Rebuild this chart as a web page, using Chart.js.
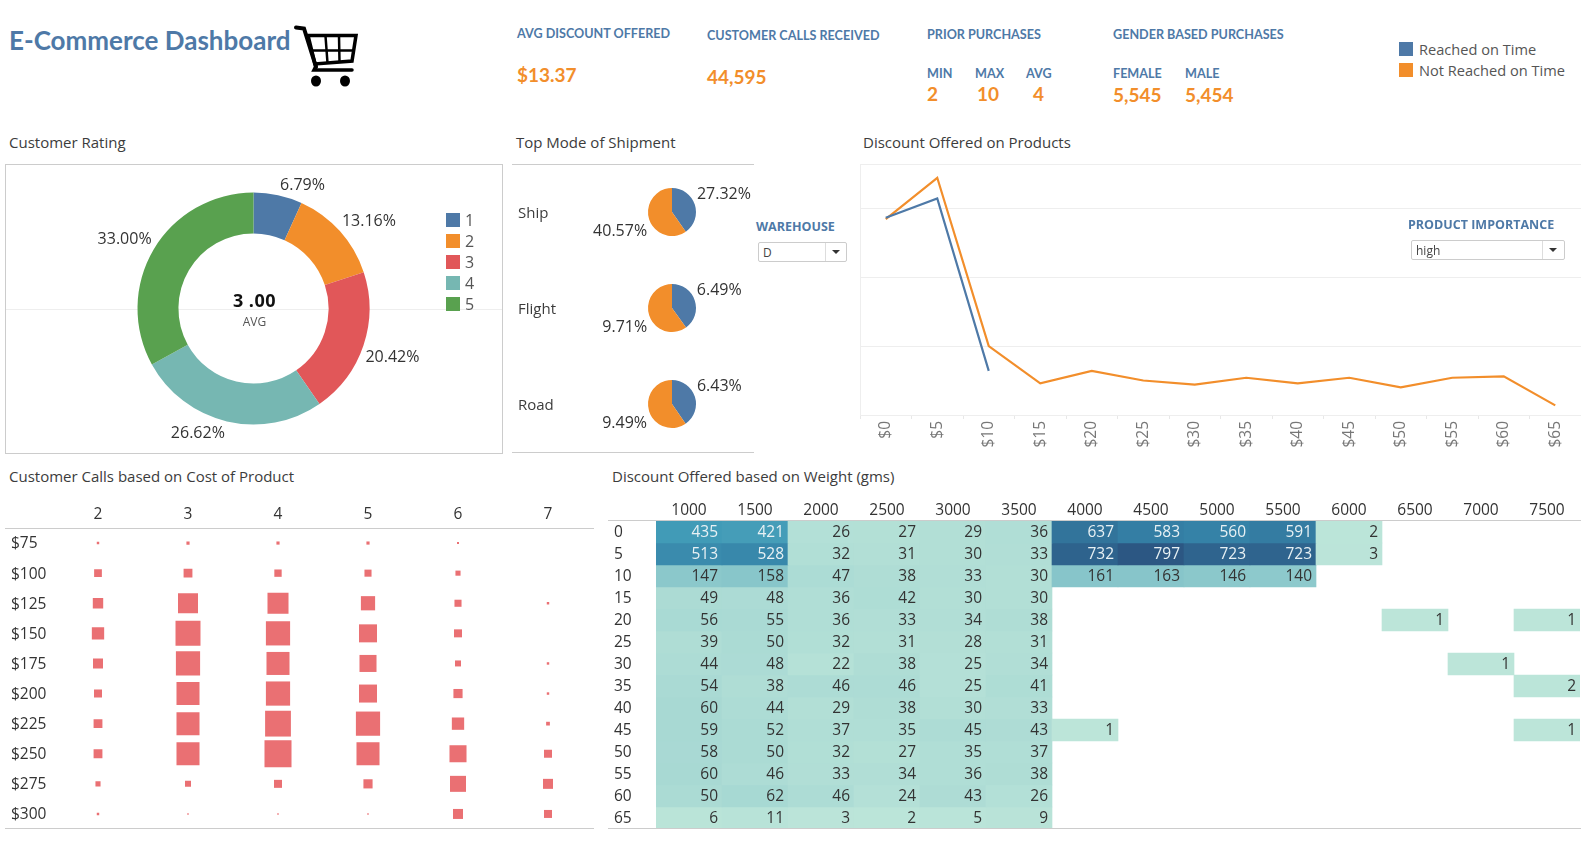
<!DOCTYPE html>
<html>
<head>
<meta charset="utf-8">
<title>E-Commerce Dashboard</title>
<script src="https://cdn.jsdelivr.net/npm/chart.js@4"></script>
<style>
html, body { margin: 0; padding: 0; background: #fff; }
body { position: relative; width: 1591px; height: 845px; overflow: hidden; font-family: "Open Sans", sans-serif; color: #333; }
canvas { position: absolute; }
.t { position: absolute; white-space: nowrap; transform: translateY(-50%); line-height: 1; }
.sec { font-size: 15px; color: #3c3c3c; }
.kh { font-family: Lato, sans-serif; font-weight: 700; font-size: 12.6px; color: #4e79a7; }
.kv { font-family: Lato, sans-serif; font-weight: 700; font-size: 19px; color: #f28e2b; }
.fl { font-weight: 700; font-size: 12.5px; color: #4e79a7; }
.line { position: absolute; height: 1px; background: #ccc; }
.sw { position: absolute; width: 14px; height: 14px; }
.dd { position: absolute; box-sizing: border-box; height: 20px; border: 1px solid #ccc; border-radius: 2px; font-size: 12px; color: #444; line-height: 20px; padding-left: 4px; }
.dd i { position: absolute; top: 0; bottom: 0; width: 1px; background: #ddd; }
.dd b { position: absolute; top: 7px; width: 0; height: 0; border-left: 4px solid transparent; border-right: 4px solid transparent; border-top: 4px solid #333; }
</style>
</head>
<body>

<div class="t" style="left:9px;top:40px;font-family:Lato,sans-serif;font-weight:700;font-size:26px;color:#4e79a7">E-Commerce Dashboard</div>
<svg style="position:absolute;left:290px;top:20px" width="72" height="72" viewBox="290 20 72 72">
  <polyline points="296,27.5 304,28.5 316,67" fill="none" stroke="#000" stroke-width="4" stroke-linecap="round"/>
  <polyline points="316,66 314,70 352,70" fill="none" stroke="#000" stroke-width="3.5" stroke-linecap="round"/>
  <polygon points="308,35.5 356,35.5 352,61 315,64" fill="none" stroke="#000" stroke-width="3.5"/>
  <path d="M325.5,36 L327.5,63 M339,36 L339.5,62 M310,50.5 L354,50.5" stroke="#000" stroke-width="2.5"/>
  <ellipse cx="316" cy="81" rx="5" ry="5.5"/>
  <ellipse cx="345" cy="81" rx="5" ry="5.5"/>
</svg>

<div class="t kh" style="left:517px;top:34px">AVG DISCOUNT OFFERED</div>
<div class="t kv" style="left:517px;top:74px">$13.37</div>
<div class="t kh" style="left:707px;top:36px">CUSTOMER CALLS RECEIVED</div>
<div class="t kv" style="left:707px;top:76px">44,595</div>
<div class="t kh" style="left:927px;top:35px">PRIOR PURCHASES</div>
<div class="t kh" style="left:927px;top:74px">MIN</div>
<div class="t kh" style="left:975px;top:74px">MAX</div>
<div class="t kh" style="left:1026px;top:74px">AVG</div>
<div class="t kv" style="left:927px;top:93px">2</div>
<div class="t kv" style="left:977px;top:93px">10</div>
<div class="t kv" style="left:1033px;top:93px">4</div>
<div class="t kh" style="left:1113px;top:35px">GENDER BASED PURCHASES</div>
<div class="t kh" style="left:1113px;top:74px">FEMALE</div>
<div class="t kh" style="left:1185px;top:74px">MALE</div>
<div class="t kv" style="left:1113px;top:94px">5,545</div>
<div class="t kv" style="left:1185px;top:94px">5,454</div>

<div class="sw" style="left:1399px;top:42px;background:#4e79a7"></div>
<div class="sw" style="left:1399px;top:63px;background:#f28e2b"></div>
<div class="t" style="left:1419px;top:49px;font-size:14.6px;color:#555">Reached on Time</div>
<div class="t" style="left:1419px;top:70px;font-size:14.6px;color:#555">Not Reached on Time</div>

<div class="t sec" style="left:9px;top:142px">Customer Rating</div>
<div class="t sec" style="left:516px;top:142px">Top Mode of Shipment</div>
<div class="t sec" style="left:863px;top:142px">Discount Offered on Products</div>
<div class="t sec" style="left:9px;top:476px">Customer Calls based on Cost of Product</div>
<div class="t sec" style="left:612px;top:476px">Discount Offered based on Weight (gms)</div>

<!-- rating panel -->
<div style="position:absolute;left:5px;top:164px;width:496px;height:288px;border:1px solid #ccc"></div>
<div class="line" style="left:6px;top:309px;width:496px;background:#eee"></div>
<canvas id="cRating" width="497" height="289" style="left:5px;top:164px"></canvas>
<div class="t" style="left:213px;width:83px;text-align:center;top:300px;font-weight:700;font-size:18px;color:#111;letter-spacing:.5px">3 .00</div>
<div class="t" style="left:213px;width:83px;text-align:center;top:322px;font-size:12px;color:#555">AVG</div>
<div id="ratingLegend"></div>

<!-- shipment panel -->
<div class="line" style="left:512px;top:164px;width:242px"></div>
<div class="line" style="left:512px;top:452px;width:242px"></div>
<canvas id="cShip0" width="164" height="96" style="left:590px;top:164px"></canvas>
<canvas id="cShip1" width="164" height="96" style="left:590px;top:260px"></canvas>
<canvas id="cShip2" width="164" height="96" style="left:590px;top:356px"></canvas>
<div id="shipNames"></div>

<div class="t fl" style="left:756px;top:227px">WAREHOUSE</div>
<div class="dd" style="left:758px;top:242px;width:89px">D<i style="left:66px"></i><b style="left:73px"></b></div>

<!-- discount line -->
<canvas id="cLine" width="722" height="286" style="left:859px;top:164px"></canvas>
<div class="t fl" style="left:1408px;top:225px">PRODUCT IMPORTANCE</div>
<div class="dd" style="left:1411px;top:240px;width:154px">high<i style="left:130px"></i><b style="left:137px"></b></div>

<!-- customer calls -->
<div class="line" style="left:5px;top:528px;width:589px"></div>
<div class="line" style="left:5px;top:828px;width:589px"></div>
<canvas id="cCalls" width="582" height="334" style="left:11px;top:495px"></canvas>

<!-- heat table -->
<canvas id="cHeat" width="966" height="334" style="left:614px;top:495px"></canvas>
<div class="line" style="left:608px;top:520px;width:973px"></div>
<div class="line" style="left:608px;top:828px;width:973px"></div>

<script>
const ratingLabels = ['1', '2', '3', '4', '5'];
const ratingValues = [6.79, 13.16, 20.42, 26.62, 33.00];

const shipModes = ['Ship', 'Flight', 'Road'];
const shipOnTime = [27.32, 6.49, 6.43];
const shipLate = [40.57, 9.71, 9.49];

const discountLabels = ['$0', '$5', '$10', '$15', '$20', '$25', '$30', '$35', '$40', '$45', '$50', '$55', '$60', '$65'];
const reachedOnTime = [143, 157, 32, null, null, null, null, null, null, null, null, null, null, null];
const notReachedOnTime = [142, 172, 50, 23, 32, 25, 22, 27, 23, 27, 20, 27, 28, 7];

const callColumns = ['2', '3', '4', '5', '6', '7'];
const costRows = ['$75', '$100', '$125', '$150', '$175', '$200', '$225', '$250', '$275', '$300'];
const calls2 = [3, 30, 54, 76, 50, 32, 39, 39, 13, 3];
const calls3 = [5, 39, 200, 312, 293, 265, 265, 265, 18, 1];
const calls4 = [5, 27, 221, 293, 265, 293, 333, 365, 32, 1];
const calls5 = [5, 25, 101, 162, 145, 162, 293, 265, 42, 1];
const calls6 = [2, 13, 25, 32, 18, 42, 76, 145, 128, 50];
const calls7 = [null, null, 3, null, 3, 3, 7, 32, 50, 32];
const callsByColumn = [calls2, calls3, calls4, calls5, calls6, calls7];

const weightLabels = ['1000', '1500', '2000', '2500', '3000', '3500', '4000', '4500', '5000', '5500', '6000', '6500', '7000', '7500'];
const discountRows = ['0', '5', '10', '15', '20', '25', '30', '35', '40', '45', '50', '55', '60', '65'];
const heatValues = [
    [435, 421, 26, 27, 29, 36, 637, 583, 560, 591, 2, null, null, null],
    [513, 528, 32, 31, 30, 33, 732, 797, 723, 723, 3, null, null, null],
    [147, 158, 47, 38, 33, 30, 161, 163, 146, 140, null, null, null, null],
    [49, 48, 36, 42, 30, 30, null, null, null, null, null, null, null, null],
    [56, 55, 36, 33, 34, 38, null, null, null, null, null, 1, null, 1],
    [39, 50, 32, 31, 28, 31, null, null, null, null, null, null, null, null],
    [44, 48, 22, 38, 25, 34, null, null, null, null, null, null, 1, null],
    [54, 38, 46, 46, 25, 41, null, null, null, null, null, null, null, 2],
    [60, 44, 29, 38, 30, 33, null, null, null, null, null, null, null, null],
    [59, 52, 37, 35, 45, 43, 1, null, null, null, null, null, null, 1],
    [58, 50, 32, 27, 35, 37, null, null, null, null, null, null, null, null],
    [60, 46, 33, 34, 36, 38, null, null, null, null, null, null, null, null],
    [50, 62, 46, 24, 43, 26, null, null, null, null, null, null, null, null],
    [6, 11, 3, 2, 5, 9, null, null, null, null, null, null, null, null]
];

const BLUE = '#4e79a7', ORANGE = '#f28e2b';
const ratingColors = [BLUE, ORANGE, '#e15759', '#76b7b2', '#59a14f'];
const heatStops = [[0, [188, 229, 217]], [150, [138, 199, 203]], [435, [65, 155, 183]], [560, [53, 130, 167]], [797, [44, 87, 131]]];
const textFont = { family: '"Open Sans", sans-serif', size: 15.5 };

Chart.defaults.animation = false;
Chart.defaults.responsive = false;
Chart.defaults.plugins.legend.display = false;
Chart.defaults.plugins.tooltip.enabled = false;

function heatColor(v) {
    if (v === null) return 'rgba(0,0,0,0)';
    for (let i = 1; i < heatStops.length; i++) {
        if (v <= heatStops[i][0]) {
            const a = heatStops[i - 1], b = heatStops[i];
            const f = (v - a[0]) / (b[0] - a[0]);
            const c = a[1].map((n, k) => Math.round(n + (b[1][k] - n) * f));
            return `rgb(${c[0]},${c[1]},${c[2]})`;
        }
    }
    return 'rgb(44,87,131)';
}

// percent labels sit just outside the slice, anchored by quadrant like tableau does
const arcLabels = {
    id: 'arcLabels',
    afterDatasetsDraw(chart) {
        const ctx = chart.ctx;
        const values = chart.data.datasets[0].data;
        ctx.save();
        ctx.font = '16px "Open Sans", sans-serif';
        ctx.fillStyle = '#333';
        chart.getDatasetMeta(0).data.forEach((arc, i) => {
            const mid = (arc.startAngle + arc.endAngle) / 2;
            const right = Math.cos(mid) >= 0, up = Math.sin(mid) < 0;
            const x = arc.x + Math.cos(mid) * arc.outerRadius + (right ? 2 : -2);
            const y = arc.y + Math.sin(mid) * arc.outerRadius + (up ? -2 : 4);
            ctx.textAlign = right ? 'left' : 'right';
            ctx.textBaseline = up ? 'bottom' : 'top';
            ctx.fillText(values[i].toFixed(2) + '%', x, y);
        });
        ctx.restore();
    }
};

const heatLabels = {
    id: 'heatLabels',
    afterDatasetsDraw(chart) {
        const ctx = chart.ctx;
        ctx.save();
        ctx.font = '15.5px "Open Sans", sans-serif';
        ctx.textAlign = 'right';
        ctx.textBaseline = 'middle';
        heatValues.forEach((row, r) => {
            const bars = chart.getDatasetMeta(r).data;
            row.forEach((v, c) => {
                if (v === null) return;
                ctx.fillStyle = v > 400 ? '#e8f1f4' : '#333';
                ctx.fillText(String(v), bars[c].x + 33 - 4, (bars[c].y + bars[c].base) / 2 + 1);
            });
        });
        ctx.restore();
    }
};

new Chart(document.getElementById('cRating'), {
    type: 'doughnut',
    data: { labels: ratingLabels, datasets: [{ data: ratingValues, backgroundColor: ratingColors, borderWidth: 0 }] },
    options: { radius: 116, cutout: '64.7%' },
    plugins: [arcLabels]
});

// rating legend
const ratingLegend = document.getElementById('ratingLegend');
ratingLabels.forEach((label, i) => {
    ratingLegend.innerHTML += `<div class="sw" style="left:446px;top:${213 + i * 21}px;background:${ratingColors[i]}"></div>` +
        `<div class="t" style="left:465px;top:${220 + i * 21}px;font-size:16px;color:#555">${label}</div>`;
});

const shipNames = document.getElementById('shipNames');
shipModes.forEach((mode, i) => {
    new Chart(document.getElementById('cShip' + i), {
        type: 'pie',
        data: { labels: ['Reached on Time', 'Not Reached on Time'], datasets: [{ data: [shipOnTime[i], shipLate[i]], backgroundColor: [BLUE, ORANGE], borderWidth: 0 }] },
        options: { radius: 24 },
        plugins: [arcLabels]
    });
    shipNames.innerHTML += `<div class="t" style="left:518px;top:${212 + i * 96}px;font-size:15px;color:#3c3c3c">${mode}</div>`;
});

new Chart(document.getElementById('cLine'), {
    type: 'line',
    data: {
        labels: discountLabels,
        datasets: [
            { label: 'Reached on Time', data: reachedOnTime, borderColor: BLUE, borderWidth: 2.2, pointRadius: 0, tension: 0 },
            { label: 'Not Reached on Time', data: notReachedOnTime, borderColor: ORANGE, borderWidth: 2.2, pointRadius: 0, tension: 0 }
        ]
    },
    options: {
        layout: { autoPadding: false },
        scales: {
            x: {
                offset: true,
                afterFit: s => { s.height = 35; },
                grid: { offset: true, drawOnChartArea: false, color: '#e8e8e8', tickLength: 4 },
                border: { color: '#eee' },
                ticks: { minRotation: 90, maxRotation: 90, autoSkip: false, color: '#777', font: textFont, padding: 2 }
            },
            y: {
                min: 0,
                max: 182,
                afterFit: s => { s.width = 1; },
                grid: { color: '#eee', drawTicks: false },
                border: { color: '#eee' },
                ticks: { display: false, stepSize: 50 }
            }
        }
    }
});

// one scatter dataset per call count, square size follows the value
new Chart(document.getElementById('cCalls'), {
    type: 'scatter',
    data: {
        datasets: callsByColumn.map((vals, c) => ({
            label: callColumns[c],
            data: vals.map((v, r) => (v === null ? null : { x: callColumns[c], y: costRows[r], v: v })).filter(p => p),
            pointStyle: 'rect',
            backgroundColor: '#ea7073',
            borderWidth: 0,
            pointRadius: ctx => Math.sqrt(ctx.raw.v)
        }))
    },
    options: {
        layout: { autoPadding: false },
        scales: {
            x: {
                type: 'category',
                labels: callColumns,
                position: 'top',
                offset: true,
                afterFit: s => { s.height = 33; },
                grid: { display: false, tickLength: 0 },
                border: { display: false },
                ticks: { color: '#333', font: textFont, maxRotation: 0, padding: 4 }
            },
            y: {
                type: 'category',
                labels: costRows,
                offset: true,
                afterFit: s => { s.width = 42; s.paddingTop = 0; s.paddingBottom = 0; },
                grid: { display: false },
                border: { display: false },
                ticks: { color: '#333', font: textFont, crossAlign: 'far', autoSkip: false, labelOffset: 1 }
            }
        }
    }
});

new Chart(document.getElementById('cHeat'), {
    type: 'bar',
    data: {
        labels: weightLabels,
        datasets: heatValues.map((row, r) => ({
            label: discountRows[r],
            data: row.map(v => (v === null ? null : [r, r + 1])),
            backgroundColor: row.map(heatColor),
            grouped: false,
            barPercentage: 1,
            categoryPercentage: 1,
            borderWidth: 0
        }))
    },
    options: {
        scales: {
            x: {
                position: 'top',
                afterFit: s => { s.height = 26; },
                grid: { display: false, tickLength: 0 },
                border: { display: false },
                ticks: { color: '#333', font: textFont, maxRotation: 0, autoSkip: false, padding: 1 }
            },
            y: { min: 0, max: 14, reverse: true, display: false },
            rows: {
                type: 'category',
                labels: discountRows,
                position: 'left',
                offset: true,
                afterFit: s => { s.width = 42; s.paddingTop = 0; s.paddingBottom = 0; },
                grid: { display: false },
                border: { display: false },
                ticks: { color: '#333', font: textFont, crossAlign: 'far', autoSkip: false, labelOffset: 1 }
            }
        }
    },
    plugins: [heatLabels]
});
</script>
</body>
</html>
